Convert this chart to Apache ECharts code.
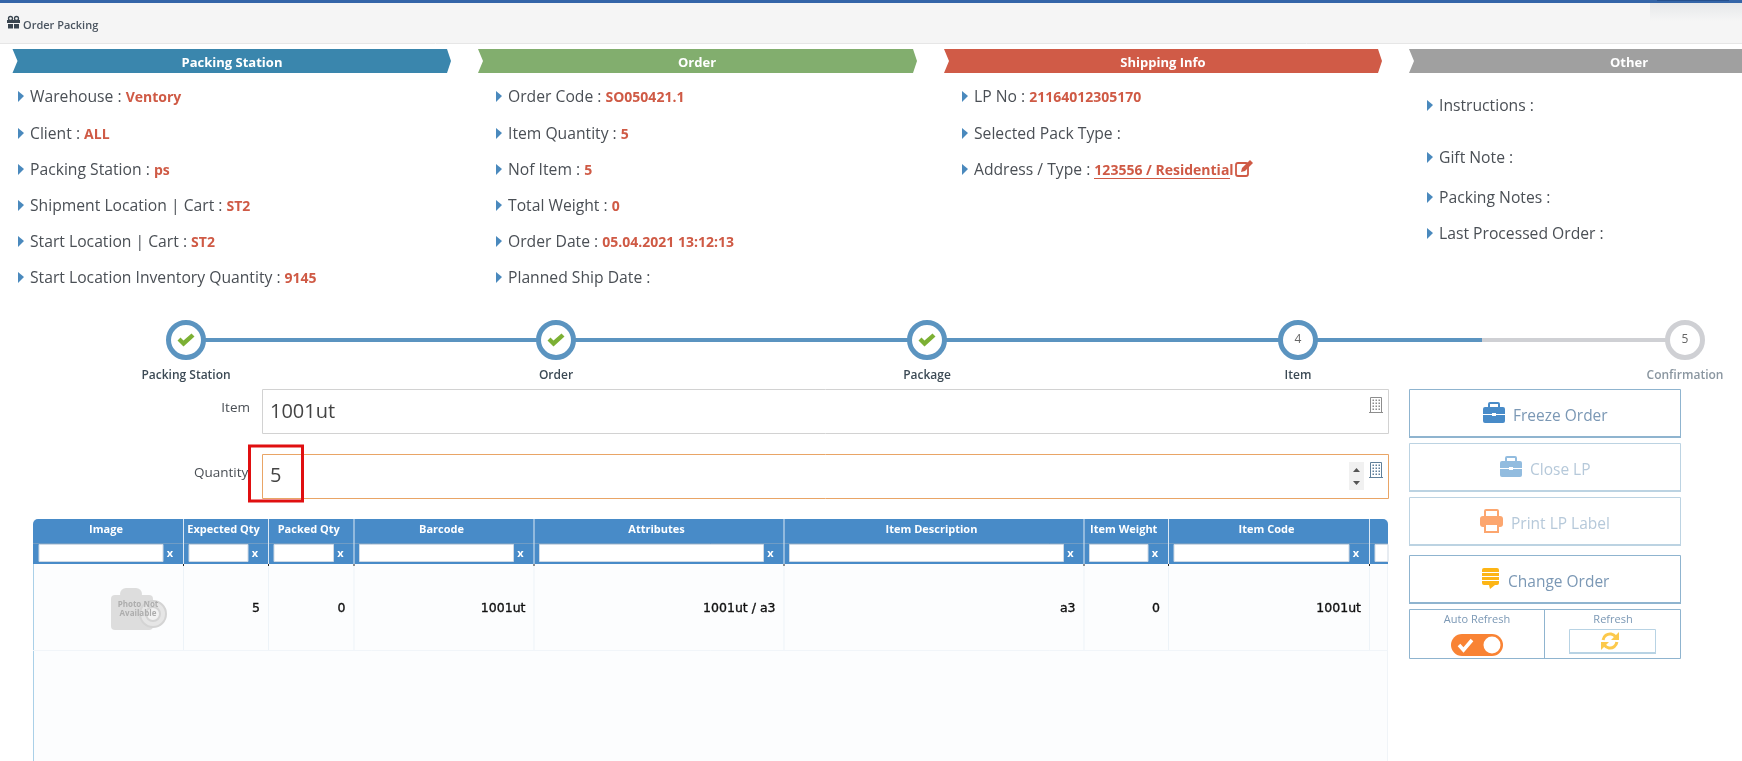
<!DOCTYPE html>
<html>
<head>
<meta charset="utf-8">
<style>html,body{margin:0;height:100%;background:#fff}#main{width:1742px;height:761px}</style>
<script src="https://cdn.jsdelivr.net/npm/echarts@6/dist/echarts.min.js"></script>
</head>
<body>
<div id="main"></div>
<script>
// ----------- data -----------
var pageTitle = 'Order Packing'
var panelTitles = ['Packing Station', 'Order', 'Shipping Info', 'Other']
var stationFields = [['Warehouse', 'Ventory'], ['Client', 'ALL'], ['Packing Station', 'ps'], ['Shipment Location | Cart', 'ST2'], ['Start Location | Cart', 'ST2'], ['Start Location Inventory Quantity', '9145']]
var orderFields = [['Order Code', 'SO050421.1'], ['Item Quantity', '5'], ['Nof Item', '5'], ['Total Weight', '0'], ['Order Date', '05.04.2021 13:12:13'], ['Planned Ship Date', '']]
var shippingFields = [['LP No', '21164012305170'], ['Selected Pack Type', ''], ['Address / Type', '123556 / Residential']]
var otherFields = [['Instructions', ''], ['Gift Note', ''], ['Packing Notes', ''], ['Last Processed Order', '']]

var stepNames = ['Packing Station', 'Order', 'Package', 'Item', 'Confirmation']
var stepAt = [0, 370, 741, 1112, 1499]
var stepMarks = ['done', 'done', 'done', '4', '5']
var progressEnd = 1296

var columnNames = ['Image', 'Expected Qty', 'Packed Qty', 'Barcode', 'Attributes', 'Item Description', 'Item Weight', 'Item Code', '']
var rowValues = ['', '5', '0', '1001ut', '1001ut / a3', 'a3', '0', '1001ut', '']
var itemValue = '1001ut'
var quantityValue = '5'

// ----------- layout -----------
var FONT = '"Open Sans"'
var BLUE = '#488bc8'
var RED_TEXT = '#cf5a45'
var panelX = [[12.5, 451], [478, 917], [944, 1382], [1409, 1760]]
var panelColor = ['#3a86ad', '#82ae6e', '#d05b47', '#a0a0a0']
var panelTextX = [232, 697, 1163, 1629]
var colEdges = [33, 183, 268, 353.5, 533.5, 783.5, 1083.5, 1168, 1369, 1388]

var els = []
function T(text, x, y, o) {
    return els.push({ type: 'text', x: x, y: y, z: 5, silent: true, style: Object.assign({ text: text, fontFamily: FONT, fontSize: 14, fill: '#4a4f55', align: 'left', verticalAlign: 'middle' }, o) })
}
function R(x, y, w, h, o, r) {
    return els.push({ type: 'rect', z: 3, silent: true, shape: { x: x, y: y, width: w, height: h, r: r || 0 }, style: o })
}
function L(x1, y1, x2, y2, color, w) {
    return els.push({ type: 'line', z: 3, silent: true, shape: { x1: x1, y1: y1, x2: x2, y2: y2 }, style: { stroke: color, lineWidth: w || 1 } })
}
function P(points, o) {
    return els.push({ type: 'polygon', z: 4, silent: true, shape: { points: points }, style: o })
}
function C(cx, cy, r, o) {
    return els.push({ type: 'circle', z: 4, silent: true, shape: { cx: cx, cy: cy, r: r }, style: o })
}
function PL(points, color, w) {
    return els.push({ type: 'polyline', z: 5, silent: true, shape: { points: points }, style: { stroke: color, lineWidth: w, fill: null } })
}
function A(cx, cy, r, start, end, color, w) {
    return els.push({ type: 'arc', z: 5, silent: true, shape: { cx: cx, cy: cy, r: r, startAngle: start, endAngle: end, clockwise: true }, style: { stroke: color, lineWidth: w, fill: null } })
}

// 顶部
R(0, 0, 1742, 3, { fill: '#3465a8' })
R(0, 3, 1742, 40, { fill: '#f5f5f5' })
L(0, 43.5, 1742, 43.5, '#e6e6e6', 1)
R(1650, 3, 92, 18, { fill: { type: 'linear', x: 0, y: 0, x2: 0, y2: 1, colorStops: [{ offset: 0, color: '#e6e8ea' }, { offset: 1, color: '#f5f5f5' }] } })
R(1657, 0, 72, 1, { fill: '#24508f' })
// gift icon
R(7, 20, 13, 3, { fill: '#39454f' })
R(8, 24, 5, 4.5, { fill: '#39454f' })
R(14, 24, 5, 4.5, { fill: '#39454f' })
C(10.5, 18.5, 2, { fill: 'none', stroke: '#39454f', lineWidth: 1.3 })
C(16.5, 18.5, 2, { fill: 'none', stroke: '#39454f', lineWidth: 1.3 })
T(pageTitle, 23, 26, { fontSize: 11, fontWeight: 600, fill: '#4b5560' })

// 四个标题条
panelTitles.forEach(function (title, i) {
    var a = panelX[i][0], b = panelX[i][1]
    P([[a, 49], [b - 4, 49], [b, 61], [b - 4, 73], [a, 73], [a + 5, 61]], { fill: panelColor[i] })
    T(title, panelTextX[i], 63, { fontSize: 13, fontWeight: 700, fill: '#fff', align: 'center' })
})

function fieldColumn(fields, triX, textX, ys, size) {
    fields.forEach(function (f, i) {
        P([[triX, ys[i] - 6], [triX + 6, ys[i] - 1], [triX, ys[i] + 5]], { fill: '#4a89bd' })
        T('{l|' + f[0] + ' : }' + (f[1] ? '{v|' + f[1] + '}' : ''), textX, ys[i] + 1, {
            rich: {
                l: { fontFamily: FONT, fontSize: size, fill: '#4a4f55' },
                v: { fontFamily: FONT, fontSize: 14, fontWeight: 700, fill: RED_TEXT }
            }
        })
    })
}
var rowY = [97, 134, 170, 206, 242, 278]
fieldColumn(stationFields, 18, 30, rowY, 15.7)
fieldColumn(orderFields, 496, 508, rowY, 15.7)
fieldColumn(shippingFields, 962, 974, rowY, 15.7)
fieldColumn(otherFields, 1427, 1439, [106, 158, 198, 234], 15.7)
// address underline and edit icon
L(1094, 178.5, 1230, 178.5, RED_TEXT, 1)
R(1236, 163, 12, 13, { fill: 'none', stroke: RED_TEXT, lineWidth: 1.8 }, 2)
P([[1241, 172], [1242, 168], [1250, 160], [1253, 163], [1245, 171]], { fill: RED_TEXT })

// 输入框
function buildingIcon(x, y, color) {
    R(x + 1.5, y + 0.5, 11, 15, { fill: 'none', stroke: color, lineWidth: 1 })
    L(x, y + 15.5, x + 14, y + 15.5, color, 1)
    for (var row = 0; row < 4; row++) {
        for (var col = 0; col < 3; col++) {
            R(x + 3.5 + col * 3, y + 2.5 + row * 3, 1.5, 1.5, { fill: color })
        }
    }
}
T('Item', 250, 408, { align: 'right', fontSize: 13.5 })
R(262.5, 389.5, 1126, 44, { fill: '#fff', stroke: '#d2d2d2', lineWidth: 1 })
T(itemValue, 270, 412, { fontSize: 20, fill: '#444' })
buildingIcon(1369, 397, '#8d8d8d')

T('Quantity', 194, 473, { fontSize: 13.5 })
R(262.5, 454.5, 1126, 44, { fill: '#fff', stroke: '#e9a566', lineWidth: 1 })
T(quantityValue, 270, 476, { fontSize: 20, fill: '#444' })
R(1349, 462, 15, 28, { fill: '#f1f1f1' })
P([[1353, 472], [1360, 472], [1356.5, 468]], { fill: '#555' })
P([[1353, 481], [1360, 481], [1356.5, 485]], { fill: '#555' })
buildingIcon(1369, 462, '#5f7f99')
R(249.5, 446, 53, 55, { fill: 'none', stroke: '#e00f10', lineWidth: 3 })

// 表格
R(33, 519, 1355, 242, { fill: '#fcfdfe' })
R(33, 519, 1355, 45, { fill: BLUE }, [5, 5, 0, 0])
L(33, 543.5, 1388, 543.5, '#6f9cc5', 1)
L(33.5, 564, 33.5, 761, '#aad0e8', 1)
L(1387.5, 564, 1387.5, 761, '#f0f4f8', 1)
L(33, 650.5, 1388, 650.5, '#f1f5f9', 1)
columnNames.forEach(function (name, i) {
    var a = colEdges[i], b = colEdges[i + 1]
    if (i < columnNames.length - 1) {
        L(b + 0.5, 519, b + 0.5, 564, '#dbe8f4', 1)
        L(b + 0.5, 564, b + 0.5, 650, '#edf3f8', 1)
        L(b + 0.5, 564, b + 0.5, 566, '#222', 1)
    }
    if (name) T(name, (a + b) / 2 - 2, 530, { fontSize: 11, fontWeight: 700, fill: '#fff', align: 'center' })
    var inputEnd = i == columnNames.length - 1 ? b : b - 20
    R(a + 6, 544.5, inputEnd - a - 6, 17, { fill: '#fff', stroke: '#cfd9e4', lineWidth: 1 })
    if (i < columnNames.length - 1) T('x', b - 13, 554, { fontSize: 11, fontWeight: 700, fill: '#fff', align: 'center' })
    if (rowValues[i]) T(rowValues[i], b - 8, 609, { fontFamily: '"DejaVu Sans"', fontSize: 12.5, fill: '#111', stroke: '#111', lineWidth: 0.35, align: 'right' })
})
// photo placeholder
R(120, 588, 22, 12, { fill: '#dddddd' }, 6)
R(111, 595, 42, 35, { fill: '#dddddd' }, 4)
C(153, 614, 13, { fill: '#e6e6e6', stroke: '#d4d4d4', lineWidth: 2 })
C(153, 614, 7, { fill: '#f2f2f2', stroke: '#d4d4d4', lineWidth: 2 })
T('Photo Not', 138, 605, { fontSize: 8, fontWeight: 700, fill: '#adadad', align: 'center' })
T('Available', 138, 613.5, { fontSize: 8, fontWeight: 700, fill: '#adadad', align: 'center' })

// 按钮
function button(y, text, tx, border, color) {
    R(1409.5, y + 0.5, 271, 48, { fill: '#fff', stroke: border, lineWidth: 1 })
    L(1409, y + 48, 1681, y + 48, border, 2)
    T(text, tx, y + 28, { fontSize: 15.5, fill: color })
}
function briefcase(x, y, color) {
    R(x + 6, y, 10, 6, { fill: 'none', stroke: color, lineWidth: 2 }, 1)
    R(x, y + 4, 22, 16, { fill: color }, 2)
    L(x, y + 11.5, x + 22, y + 11.5, '#fff', 1)
    R(x + 9, y + 10, 4, 3, { fill: '#fff' })
}
button(389, 'Freeze Order', 1513, '#8fb4cf', '#7b98b5')
briefcase(1483, 403, '#488bc8')
button(443, 'Close LP', 1530, '#bcd3e2', '#b6c9da')
briefcase(1500, 457, '#92bcdf')
button(497, 'Print LP Label', 1511, '#bcd3e2', '#b6c9da')
R(1485, 510, 13, 7, { fill: 'none', stroke: '#fca66f', lineWidth: 2 }, 1)
R(1480, 516, 23, 11, { fill: '#fca66f' }, 3)
R(1485, 524, 13, 8, { fill: '#fff', stroke: '#fca66f', lineWidth: 2 })
button(555, 'Change Order', 1508, '#8fb4cf', '#7b98b5')
R(1482, 568, 17, 17, { fill: '#fdb515' }, 2)
L(1482, 572.5, 1499, 572.5, '#fff', 1)
L(1482, 576.5, 1499, 576.5, '#fff', 1)
L(1482, 580.5, 1499, 580.5, '#fff', 1)
P([[1489, 585], [1495, 585], [1490, 589]], { fill: '#fdb515' })

R(1409.5, 609.5, 271, 49, { fill: '#fff', stroke: '#8fb4cf', lineWidth: 1 })
L(1544.5, 609, 1544.5, 659, '#8fb4cf', 1)
T('Auto Refresh', 1477, 620, { fontSize: 11, fill: '#7b98b5', align: 'center' })
T('Refresh', 1613, 620, { fontSize: 11, fill: '#7b98b5', align: 'center' })
R(1451, 634, 52, 22, { fill: '#f98334' }, 11)
C(1492, 645, 8.5, { fill: '#fff' })
PL([[1459, 645], [1463.5, 650], [1472, 640]], '#fff', 3.5)
R(1569.5, 629.5, 86, 23, { fill: '#fff', stroke: '#b8d3e4', lineWidth: 1 })
L(1569, 653, 1656, 653, '#b8d3e4', 2)
// refresh arrows
A(1610, 641, 7, Math.PI * 1.05, Math.PI * 1.8, '#fcc94c', 3)
A(1610, 641, 7, Math.PI * 0.05, Math.PI * 0.8, '#fcc94c', 3)
P([[1619, 632], [1619, 640], [1611, 640]], { fill: '#fcc94c' })
P([[1601, 650], [1601, 642], [1609, 642]], { fill: '#fcc94c' })

// ----------- 步骤条 -----------
var stepData = stepNames.map(function (name, i) {
    return { name: name, value: [stepAt[i], 1], mark: stepMarks[i] }
})
var option = {
    backgroundColor: '#fff',
    animation: false,
    grid: { left: 186, right: 57, top: 320, height: 40 },
    xAxis: { type: 'value', min: 0, max: 1499, show: false },
    yAxis: { type: 'value', min: 0, max: 2, show: false },
    graphic: { elements: els },
    series: [
        {
            type: 'line', symbol: 'none', silent: true, z: 2,
            lineStyle: { color: '#cfd0d4', width: 4 },
            data: [[progressEnd, 1], [stepAt[4], 1]]
        },
        {
            type: 'line', symbol: 'none', silent: true, z: 3,
            lineStyle: { color: '#5b94c0', width: 4 },
            data: [[stepAt[0], 1], [progressEnd, 1]]
        },
        {
            type: 'scatter', symbolSize: 35, silent: true, z: 4,
            data: stepData.map(function (d) {
                var active = d.mark != '5'
                return {
                    name: d.name,
                    value: d.value,
                    itemStyle: { color: '#fff', borderColor: active ? '#5b94c0' : '#cfd0d4', borderWidth: 5, opacity: 1 },
                    label: {
                        show: true, position: 'bottom', distance: 10, formatter: d.name,
                        fontFamily: 'Open Sans', fontSize: 12, fontWeight: 600,
                        color: active ? '#3c4a55' : '#8a96a0'
                    }
                }
            })
        },
        {
            type: 'scatter', silent: true, z: 5,
            symbol: 'path://M0 7 L3 4 L6 7 L14 0 L17 3 L6 13 Z', symbolSize: [17, 13],
            itemStyle: { color: '#7cb034', opacity: 1 },
            data: stepData.filter(function (d) { return d.mark == 'done' }).map(function (d) { return d.value })
        },
        {
            type: 'scatter', symbolSize: 1, silent: true, z: 5,
            itemStyle: { color: '#fff', opacity: 1 },
            label: { show: true, position: 'inside', formatter: function (p) { return p.data[2] }, fontFamily: 'Open Sans', fontSize: 12, color: '#666' },
            data: stepData.filter(function (d) { return d.mark != 'done' }).map(function (d) { return [d.value[0], d.value[1], d.mark] })
        }
    ]
}

var chart = echarts.init(document.getElementById('main'))
chart.setOption(option)
</script>
</body>
</html>
